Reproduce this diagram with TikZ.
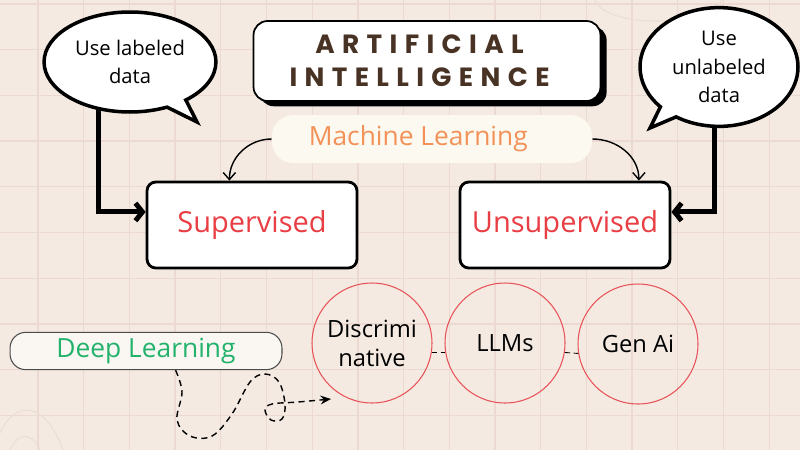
\documentclass[tikz,border=0pt]{standalone}
\usepackage{fontspec}
\setmainfont{Open Sans}
\newfontfamily\titlefont[LetterSpace=28]{Poppins}
\usetikzlibrary{shapes.callouts,arrows.meta,shadows}
\definecolor{aiPaper}{RGB}{244,234,225}
\definecolor{aiGrid}{RGB}{236,218,210}
\definecolor{aiFaint}{RGB}{235,222,212}
\definecolor{aiBrown}{RGB}{72,50,36}
\definecolor{aiRed}{RGB}{232,62,68}
\definecolor{aiRing}{RGB}{232,82,88}
\definecolor{aiOrange}{RGB}{242,146,88}
\definecolor{aiGreen}{RGB}{34,178,108}
\definecolor{aiCream}{RGB}{252,249,240}
\definecolor{aiPill}{RGB}{250,247,243}

\begin{document}
\begin{tikzpicture}[x=0.02cm, y=-0.02cm,
  gridline/.style={aiGrid, line width=0.7pt},
  faintline/.style={aiFaint, line width=0.6pt},
  bubble/.style={ellipse callout, draw=black, line width=2pt, fill=white,
    align=center, font=\fontsize{11.5}{16.4}\selectfont},
  learnbox/.style={rectangle, draw=black, line width=1.6pt, fill=white,
    rounded corners=5pt, minimum width=4.2cm, minimum height=1.72cm,
    text=aiRed, font=\fontsize{16.5}{19}\selectfont},
  ring/.style={circle, draw=aiRing, line width=0.6pt, minimum size=2.4cm,
    inner sep=0pt, align=center, font=\fontsize{13.5}{16.5}\selectfont},
  thinarrow/.style={-{Straight Barb[length=4pt,width=7pt]}, line width=0.8pt},
  thickarrow/.style={-{Straight Barb[length=4pt,width=10pt]}, line width=2.8pt},
  linkline/.style={line width=0.5pt, dash pattern=on 3pt off 2pt},
  trailline/.style={-{Stealth[length=6pt,width=5pt]}, line width=0.8pt,
    dash pattern=on 3.5pt off 2.5pt}
]
% Background and grid
\fill[aiPaper] (0,0) rectangle (800,450);
\useasboundingbox (0,0) rectangle (800,450);
\foreach \i in {0,...,17} \draw[gridline] ({38+45.7*\i},0) -- ++(0,450);
\foreach \j in {0,...,9} \draw[gridline] (0,{4+45.7*\j}) -- ++(800,0);
\draw[faintline] (595,0) .. controls (605,28) and (705,28) .. (722,0);
\draw[faintline] (0,433) .. controls (15,400) and (45,400) .. (63,450);
\draw[faintline] (10,450) .. controls (18,432) and (32,432) .. (40,450);

% Title
\node[draw=black, line width=1pt, fill=white, rounded corners=8pt,
  minimum width=6.94cm, minimum height=1.6cm, align=center,
  drop shadow={shadow xshift=3.5pt, shadow yshift=-3pt, fill=black, opacity=1},
  text=aiBrown, font=\titlefont\bfseries\fontsize{15}{18.7}\selectfont]
  (title) at (427,61) {ARTIFICIAL\hspace*{0.3cm}\\INTELLIGENCE\hspace*{0.3cm}};

% Machine learning
\node[fill=aiCream, rounded corners=12pt, minimum width=6.4cm, minimum height=0.96cm,
  text=aiOrange, font=\fontsize{15}{17}\selectfont]
  (ml) at (432,139) {Machine Learning\hspace*{0.55cm}};
\node[learnbox] (sup) at (252,225) {Supervised};
\node[learnbox] (unsup) at (565,225) {Unsupervised};
\draw[thinarrow] (ml.west) to[out=180,in=90] (sup.117);
\draw[thinarrow] (ml.east) to[out=0,in=90] (unsup.31);

% Speech bubbles
\node[bubble, minimum width=3.08cm, minimum height=2cm,
  callout absolute pointer={(197,122)}] (lb) at (130,62) {Use labeled\\data};
\node[bubble, minimum width=3.16cm, minimum height=2.08cm,
  callout absolute pointer={(650,128)}] (rb) at (719,67) {Use\\unlabeled\\data};
\draw[thickarrow] (lb.237) |- (sup.173);
\draw[thickarrow] (rb.266) |- (unsup.7);

% Deep learning
\node[draw=black!70, line width=0.6pt, fill=aiPill, rounded corners=9pt,
  minimum width=5.44cm, minimum height=0.66cm, text=aiGreen,
  font=\fontsize{15}{17}\selectfont] (dl) at (146,351) {Deep Learning};
\node[ring] (disc) at (372,343) {Discrimi\\native};
\node[ring] (llm) at (505,343) {LLMs};
\node[ring] (gen) at (638,344) {Gen Ai};
\draw[linkline] (disc.-9) -- (llm.189);
\draw[linkline] (llm.-9) -- (gen.189);
\draw[trailline] plot[smooth, tension=0.6] coordinates {(dl.-33) (182,392)
  (177,420) (190,436) (212,436) (232,414) (250,382) (265,374) (279,382)
  (285,404) (282,419) (271,420) (265,410) (272,404) (298,402) (331,399)};
\end{tikzpicture}
\end{document}
